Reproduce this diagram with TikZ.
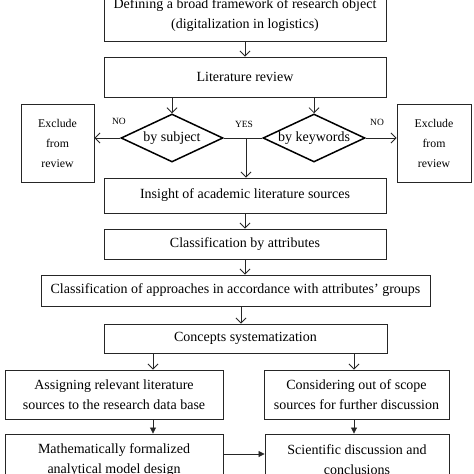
\documentclass[tikz,border=0pt]{standalone}
\usepackage{fontspec}
\setmainfont{Liberation Serif}
\usetikzlibrary{arrows.meta,shapes.geometric}
\newcommand\mainsz{\fontsize{14}{20}\selectfont}
\newcommand\smallsz{\fontsize{11.8}{20}\selectfont}
\newcommand\tinysz{\fontsize{9.5}{10}\selectfont}
\tikzset{
  box/.style={draw=black!85, line width=0.9pt, rectangle, inner sep=0pt, align=center, font=\mainsz},
  dia/.style={draw=black, line width=1.5pt, diamond, aspect=2.1, inner sep=0pt, minimum width=102pt, minimum height=48pt, font=\mainsz},
  open/.style={draw=black!85, line width=0.8pt, -{Straight Barb[length=5pt,width=10pt]}},
  solid/.style={draw=black!85, line width=0.8pt, -{Triangle[length=6pt,width=6pt]}},
  plain/.style={draw=black!85, line width=0.8pt},
  lab/.style={font=\tinysz, inner sep=0pt}
}
\begin{document}
\begin{tikzpicture}[x=1pt,y=-1pt]
\useasboundingbox (0,0) rectangle (474,474);
\fill[white] (0,0) rectangle (474,474);
\clip (0,0) rectangle (474,474);

\node[box, minimum width=282pt, minimum height=51pt] (top) at (245,15.5)
  {Defining a broad framework of research object\\(digitalization in logistics)};
\node[box, minimum width=282pt, minimum height=40pt] (lit) at (245,77) {Literature review};

\node[dia] (subj) at (172,138) {by subject};
\node[dia] (kw) at (314,138) {by keywords};

\node[box, font=\smallsz, minimum width=73pt, minimum height=78pt] (exl) at (57.5,143) {Exclude\\from\\review};
\node[box, font=\smallsz, minimum width=74pt, minimum height=78pt] (exr) at (434,143) {Exclude\\from\\review};

\node[box, minimum width=282pt, minimum height=35pt] (ins) at (245,195.5) {Insight of academic literature sources};
\node[box, minimum width=282pt, minimum height=30pt] (cls) at (245,244) {Classification by attributes};
\node[box, minimum width=389pt, minimum height=31pt] (appr) at (235.5,290.5) {Classification of approaches in accordance with attributes’ groups};
\node[box, minimum width=283pt, minimum height=29pt] (conc) at (245.5,338.5) {Concepts systematization};

\node[box, minimum width=218pt, minimum height=49pt] (assg) at (114,394.5) {Assigning relevant literature\\sources to the research data base};
\node[box, minimum width=185pt, minimum height=49pt] (cons) at (356.5,394.5) {Considering out of scope\\sources for further discussion};
\node[box, minimum width=218pt, minimum height=52pt] (math) at (114,460) {Mathematically formalized\\analytical model design};
\node[box, minimum width=184pt, minimum height=52pt] (sci) at (357,460) {Scientific discussion and\\conclusions};

\node[lab] (no1) at (119,121) {NO};
\node[lab] (yes) at (244,124) {YES};
\node[lab] (no2) at (377,122) {NO};

\coordinate (yj) at (246,138);
\coordinate (cl) at (153,0);
\coordinate (cr) at (354,0);
\coordinate (ay) at (0,454);

\draw[open] (top.south) -- (lit.north);
\draw[open] (lit.south -| subj.north) -- (subj.north);
\draw[open] (lit.south -| kw.north) -- (kw.north);
\draw[open] (subj.west) -- (exl.east |- subj.west);
\draw[open] (kw.east) -- (exr.west |- kw.east);
\draw[plain] (subj.east) -- (kw.west);
\draw[open] (yj) -- (ins.north -| yj);
\draw[open] (ins.south) -- (cls.north);
\draw[open] (cls.south) -- (appr.north -| cls.south);
\draw[open] (appr.south -| 241,0) -- (conc.north -| 241,0);
\draw[open] (conc.south -| cl) -- (assg.north -| cl);
\draw[open] (conc.south -| cr) -- (cons.north -| cr);
\draw[solid] (assg.south -| cl) -- (math.north -| cl);
\draw[solid] (cons.south -| cr) -- (sci.north -| cr);
\draw[solid] (math.east |- ay) -- (sci.west |- ay);
\end{tikzpicture}
\end{document}
